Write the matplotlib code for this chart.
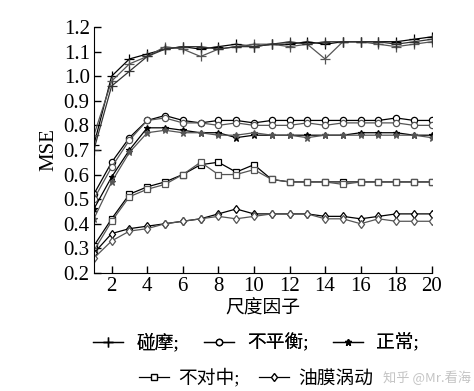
import matplotlib
matplotlib.use('Agg')
import matplotlib.pyplot as plt
from matplotlib.lines import Line2D

plt.rcParams['font.family'] = ['Liberation Serif', 'Noto Sans CJK SC']
plt.rcParams['axes.unicode_minus'] = False

# Данные: 尺度因子 1..20
scale = list(range(1, 21))

pengmo_1 = [0.72, 1.00, 1.07, 1.09, 1.11, 1.12, 1.11, 1.12, 1.13, 1.12, 1.13, 1.13, 1.14, 1.13, 1.14, 1.14, 1.14, 1.14, 1.15, 1.16]
pengmo_2 = [0.76, 0.98, 1.05, 1.08, 1.12, 1.11, 1.08, 1.11, 1.12, 1.13, 1.13, 1.12, 1.13, 1.07, 1.14, 1.14, 1.13, 1.12, 1.13, 1.14]
pengmo_3 = [0.70, 0.96, 1.02, 1.08, 1.11, 1.12, 1.12, 1.11, 1.12, 1.12, 1.13, 1.14, 1.13, 1.14, 1.14, 1.14, 1.14, 1.13, 1.14, 1.15]

buph_1 = [0.52, 0.65, 0.75, 0.82, 0.84, 0.82, 0.81, 0.82, 0.82, 0.81, 0.82, 0.82, 0.82, 0.82, 0.82, 0.82, 0.82, 0.83, 0.82, 0.82]
buph_2 = [0.50, 0.63, 0.74, 0.82, 0.83, 0.81, 0.81, 0.80, 0.81, 0.80, 0.80, 0.80, 0.81, 0.80, 0.81, 0.81, 0.81, 0.81, 0.80, 0.80]

zhengchang_1 = [0.46, 0.59, 0.70, 0.79, 0.79, 0.78, 0.77, 0.77, 0.75, 0.76, 0.76, 0.76, 0.76, 0.76, 0.76, 0.77, 0.77, 0.77, 0.76, 0.76]
zhengchang_2 = [0.42, 0.57, 0.69, 0.77, 0.78, 0.77, 0.77, 0.76, 0.76, 0.77, 0.76, 0.76, 0.75, 0.76, 0.76, 0.76, 0.76, 0.76, 0.76, 0.75]

buduizhong_1 = [0.31, 0.42, 0.52, 0.55, 0.57, 0.60, 0.64, 0.65, 0.61, 0.64, 0.58, 0.57, 0.57, 0.57, 0.57, 0.57, 0.57, 0.57, 0.57, 0.57]
buduizhong_2 = [0.29, 0.41, 0.51, 0.54, 0.56, 0.60, 0.65, 0.60, 0.60, 0.62, 0.58, 0.57, 0.57, 0.57, 0.56, 0.57, 0.57, 0.57, 0.57, 0.57]

youmo_1 = [0.28, 0.36, 0.38, 0.39, 0.40, 0.41, 0.42, 0.44, 0.46, 0.44, 0.44, 0.44, 0.44, 0.43, 0.43, 0.42, 0.43, 0.44, 0.44, 0.44]
youmo_2 = [0.26, 0.33, 0.37, 0.38, 0.40, 0.41, 0.42, 0.43, 0.42, 0.43, 0.44, 0.44, 0.44, 0.42, 0.42, 0.40, 0.42, 0.41, 0.41, 0.41]

labels = ['碰摩;', '不平衡;', '正常;', '不对中;', '油膜涡动']
markers = ['+', 'o', '*', 's', 'd']
groups = [
    [pengmo_1, pengmo_2, pengmo_3],
    [buph_1, buph_2],
    [zhengchang_1, zhengchang_2],
    [buduizhong_1, buduizhong_2],
    [youmo_1, youmo_2],
]
shades = ['black', '#555555', '#333333']
msize = {'+': 7, 'o': 4.5, '*': 5, 's': 4.5, 'd': 4.5}

fig = plt.figure(figsize=(4.74, 3.91), dpi=100)
ax = fig.add_axes([0.198, 0.302, 0.713, 0.629])

for g, m in zip(groups, markers):
    for i, vals in enumerate(g):
        ax.plot(scale, vals, color=shades[i % 3], lw=0.9, marker=m,
                markersize=msize[m], markerfacecolor='white' if m in 'osd' else shades[i % 3],
                markeredgewidth=0.9)

ax.set_xlim(1, 20)
ax.set_ylim(0.2, 1.2)
ax.set_xticks(range(2, 21, 2))
ax.set_yticks([0.2, 0.3, 0.4, 0.5, 0.6, 0.7, 0.8, 0.9, 1.0, 1.1, 1.2])
ax.yaxis.set_major_formatter(matplotlib.ticker.FormatStrFormatter('%.1f'))
ax.tick_params(direction='in', length=5, labelsize=15, width=1, pad=3)
ax.spines['top'].set_visible(False)
ax.spines['right'].set_visible(False)
ax.set_ylabel('MSE', fontsize=15, labelpad=4)
ax.set_xlabel('尺度因子', fontsize=13.5, labelpad=3)

# легенда в две строки
handles = []
for lab, m in zip(labels, markers):
    handles.append(Line2D([], [], color='black', lw=0.9, marker=m,
                          markersize=msize[m],
                          markerfacecolor='white' if m in 'osd' else 'black'))

leg1 = fig.legend(handles[:3], labels[:3], loc='center', bbox_to_anchor=(0.54, 0.123),
                  ncol=3, frameon=False, fontsize=13.5, handlelength=1.6,
                  handletextpad=0.7, columnspacing=1.3)
fig.add_artist(leg1)
fig.legend(handles[3:], labels[3:], loc='center', bbox_to_anchor=(0.54, 0.033),
           ncol=2, frameon=False, fontsize=13.5, handlelength=1.6,
           handletextpad=0.5, columnspacing=1.0)

fig.text(0.9, 0.033, '知乎 @Mr.看海', color='#c4c4c4', fontsize=9.5,
         ha='center', va='center', family=['Noto Sans CJK SC', 'DejaVu Sans'])

fig.savefig('out.png', dpi=100)
